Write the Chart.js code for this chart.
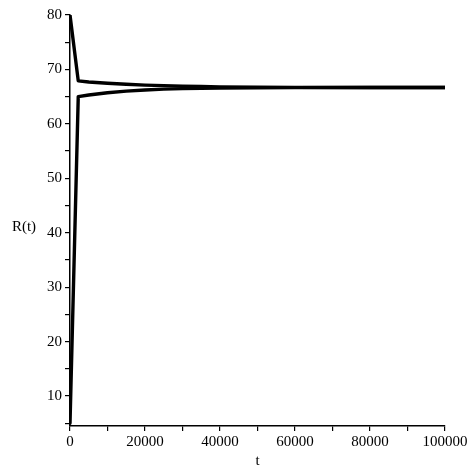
<!DOCTYPE html>
<html>
<head>
<meta charset="utf-8">
<script src="https://cdn.jsdelivr.net/npm/chart.js@4.4.1/dist/chart.umd.min.js"></script>
<style>
html,body{margin:0;padding:0;background:#fff;}
#wrap{width:474px;height:474px;}
</style>
</head>
<body>
<div id="wrap"><canvas id="c" width="474" height="474"></canvas></div>
<script>
const tValues = [0, 2200, 5000, 10000, 15000, 20000, 25000, 30000, 35000, 40000, 50000, 60000, 80000, 100000];
const upperR = [80, 67.9, 67.7, 67.45, 67.27, 67.12, 67.02, 66.93, 66.86, 66.8, 66.73, 66.7, 66.68, 66.67];
const lowerR = [5, 65.0, 65.3, 65.72, 66.02, 66.23, 66.38, 66.48, 66.55, 66.6, 66.64, 66.66, 66.67, 66.67];
const xTicks = [0, 10000, 20000, 30000, 40000, 50000, 60000, 70000, 80000, 90000, 100000];
const yTicks = [5, 10, 15, 20, 25, 30, 35, 40, 45, 50, 55, 60, 65, 70, 75, 80];
const xTitle = 't';
const yTitle = 'R(t)';

const FONT = 'Liberation Serif, Times New Roman, serif';

const toPts = (xs, ys) => xs.map((x, i) => ({x: x, y: ys[i]}));

const titlePlugin = {
  id: 'axisTitles',
  afterDraw(chart) {
    const {ctx, chartArea} = chart;
    ctx.save();
    ctx.fillStyle = '#000';
    ctx.font = '15px ' + FONT;
    ctx.textAlign = 'center';
    ctx.textBaseline = 'middle';
    ctx.fillText(xTitle, (chartArea.left + chartArea.right) / 2, chartArea.bottom + 35);
    ctx.fillText(yTitle, 24, (chartArea.top + chartArea.bottom) / 2 + 7);
    ctx.restore();
  }
};

new Chart(document.getElementById('c'), {
  type: 'line',
  data: {
    datasets: [
      {data: toPts(tValues, upperR), borderColor: '#000', borderWidth: 3.4, pointRadius: 0, tension: 0, fill: false, borderJoinStyle: 'round', borderCapStyle: 'round'},
      {data: toPts(tValues, lowerR), borderColor: '#000', borderWidth: 3.4, pointRadius: 0, tension: 0, fill: false, borderJoinStyle: 'round', borderCapStyle: 'round'}
    ]
  },
  options: {
    responsive: false,
    animation: false,
    devicePixelRatio: 1,
    layout: {padding: {top: 15, right: 29, left: 0, bottom: 0}},
    plugins: {legend: {display: false}, tooltip: {enabled: false}, title: {display: false}},
    scales: {
      x: {
        type: 'linear',
        min: 0, max: 100000,
        afterBuildTicks: s => { s.ticks = xTicks.map(v => ({value: v})); },
        afterFit: s => { s.height = 48; },
        border: {display: true, color: '#000', width: 1.5},
        grid: {display: true, drawOnChartArea: false, drawTicks: true, tickLength: 5, color: '#000', lineWidth: 1.2},
        ticks: {
          color: '#000', font: {family: FONT, size: 15}, padding: 2, maxRotation: 0, autoSkip: false,
          callback: v => (v % 20000 === 0 ? String(v) : '')
        }
      },
      y: {
        type: 'linear',
        min: 4.5, max: 80,
        afterBuildTicks: s => { s.ticks = yTicks.map(v => ({value: v})); },
        afterFit: s => { s.width = 70; },
        border: {display: true, color: '#000', width: 1.5},
        grid: {display: true, drawOnChartArea: false, drawTicks: true, tickLength: 5, color: '#000', lineWidth: 1.2},
        ticks: {
          color: '#000', font: {family: FONT, size: 15}, padding: 3, autoSkip: false,
          callback: v => (v % 10 === 0 ? String(v) : '')
        }
      }
    }
  },
  plugins: [titlePlugin]
});
</script>
</body>
</html>
